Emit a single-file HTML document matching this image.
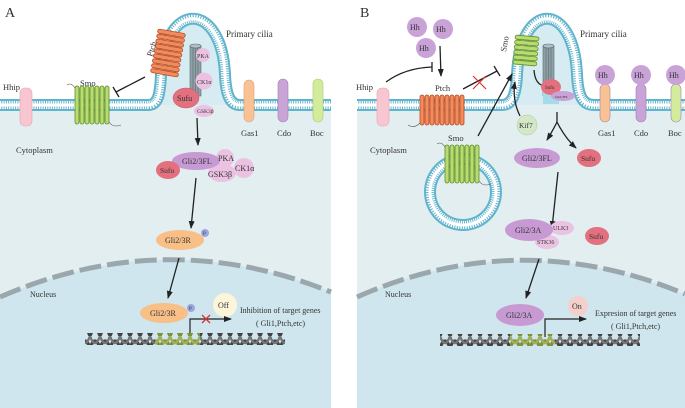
<!DOCTYPE html>
<html><head><meta charset="utf-8"><style>
html,body{margin:0;padding:0;background:#fff}
svg{display:block}
text{font-family:"Liberation Serif",serif;fill:#333}
.m1{fill:none;stroke:#62b4cc;stroke-width:12}
.m2{fill:none;stroke:#fff;stroke-width:8;stroke-dasharray:1.3 1}
.m3{fill:none;stroke:#fff;stroke-width:3}
.ar{stroke:#222;stroke-width:1.3;fill:none;marker-end:url(#ah)}
.in{stroke:#222;stroke-width:1.3;fill:none}
</style></head><body>
<svg width="685" height="408" viewBox="0 0 685 408" xmlns="http://www.w3.org/2000/svg">
<defs>
<marker id="ah" markerWidth="8" markerHeight="8" refX="7" refY="4" orient="auto" markerUnits="userSpaceOnUse"><path d="M0,1 L8,4 L0,7 z" fill="#222"/></marker>
<pattern id="dna" width="10" height="12" patternUnits="userSpaceOnUse"><path d="M0,12 Q5,-2 10,12" fill="none" stroke="#444" stroke-width="3.2"/><path d="M0,0 Q5,14 10,0" fill="none" stroke="#777" stroke-width="2.4"/></pattern>
<pattern id="dnag" width="10" height="12" patternUnits="userSpaceOnUse"><path d="M0,12 Q5,-2 10,12" fill="none" stroke="#7f9238" stroke-width="3.2"/><path d="M0,0 Q5,14 10,0" fill="none" stroke="#a2b25a" stroke-width="2.4"/></pattern>
<g id="smoV"><g fill="#b9db70" stroke="#5f8f2a" stroke-width="0.8">
<rect x="0" y="0" width="4" height="38" rx="2"/><rect x="5" y="0" width="4" height="38" rx="2"/><rect x="10" y="0" width="4" height="38" rx="2"/><rect x="15" y="0" width="4" height="38" rx="2"/><rect x="20" y="0" width="4" height="38" rx="2"/><rect x="25" y="0" width="4" height="38" rx="2"/><rect x="30" y="0" width="4" height="38" rx="2"/></g>
<path d="M0,2 q-4,-6 -8,-3" stroke="#555" stroke-width="0.6" fill="none"/><path d="M34,36 q4,6 12,3" stroke="#555" stroke-width="0.6" fill="none"/></g>
<g id="ptchV"><g fill="#f28c5c" stroke="#b94b25" stroke-width="0.8">
<rect x="0" y="0" width="4" height="30" rx="2"/><rect x="5" y="0" width="4" height="30" rx="2"/><rect x="10" y="0" width="4" height="30" rx="2"/><rect x="15" y="0" width="4" height="30" rx="2"/><rect x="20" y="0" width="4" height="30" rx="2"/><rect x="25" y="0" width="4" height="30" rx="2"/><rect x="30" y="0" width="4" height="30" rx="2"/><rect x="35" y="0" width="4" height="30" rx="2"/><rect x="40" y="0" width="4" height="30" rx="2"/></g>
<path d="M0,28 q-6,6 -12,2" stroke="#555" stroke-width="0.6" fill="none"/></g>
<g id="axo"><rect x="0" y="0" width="11" height="50" fill="#8fa0a6" stroke="#5a6a70" stroke-width="0.6"/><path d="M3,0v50M5.5,0v50M8,0v50" stroke="#5a6a70" stroke-width="0.6"/><ellipse cx="5.5" cy="0" rx="5.5" ry="2" fill="#b0c0c5" stroke="#5a6a70" stroke-width="0.6"/></g>
</defs>

<!-- Panel A background -->
<rect x="0" y="105" width="331" height="303" fill="#e3eef1"/>
<path d="M0,297 Q165,225 331,292 L331,408 L0,408 Z" fill="#cfe6ee"/>
<path d="M0,297 Q165,225 331,292" fill="none" stroke="#9aa8ad" stroke-width="5" stroke-dasharray="22 6"/>
<path d="M156,105 C160,100 160,90 161,75 C164,0 222,0 225,75 C226,90 226,100 232,105 Z" fill="#d6ecf2"/>
<path class="m1" d="M0,105 L148,105 C158,105 160,95 161,75 C164,0 222,0 225,75 C226,95 230,105 240,105 L331,105"/>
<path class="m2" d="M0,105 L148,105 C158,105 160,95 161,75 C164,0 222,0 225,75 C226,95 230,105 240,105 L331,105"/>
<path class="m3" d="M0,105 L148,105 C158,105 160,95 161,75 C164,0 222,0 225,75 C226,95 230,105 240,105 L331,105"/>

<!-- Panel B background -->
<rect x="357" y="105" width="328" height="303" fill="#e3eef1"/>
<path d="M357,297 Q520,225 685,294 L685,408 L357,408 Z" fill="#cfe6ee"/>
<path d="M357,297 Q520,225 685,294" fill="none" stroke="#9aa8ad" stroke-width="5" stroke-dasharray="22 6"/>
<path d="M510,105 C515,100 516,90 517,75 C520,0 574,0 577,75 C578,90 580,100 586,105 Z" fill="#d6ecf2"/>
<path class="m1" d="M357,105 L502,105 C512,105 516,95 517,75 C520,0 574,0 577,75 C578,95 582,105 594,105 L685,105"/>
<path class="m2" d="M357,105 L502,105 C512,105 516,95 517,75 C520,0 574,0 577,75 C578,95 582,105 594,105 L685,105"/>
<path class="m3" d="M357,105 L502,105 C512,105 516,95 517,75 C520,0 574,0 577,75 C578,95 582,105 594,105 L685,105"/>
<!-- vesicle -->
<circle cx="463" cy="192" r="33" fill="none" stroke="#62b4cc" stroke-width="12"/>
<circle cx="463" cy="192" r="33" fill="none" stroke="#fff" stroke-width="8" stroke-dasharray="1.3 1"/>
<circle cx="463" cy="192" r="33" fill="none" stroke="#fff" stroke-width="3"/>
<circle cx="463" cy="192" r="26" fill="#e3eef1"/>

<!-- ===== A ===== -->
<text x="5" y="17" font-size="14">A</text>
<text x="226" y="37" font-size="9">Primary cilia</text>
<rect x="20" y="88" width="12" height="38" rx="5" fill="#f8c6d0" stroke="#eaa0b0" stroke-width="0.6"/>
<text x="3" y="90" font-size="8.5">Hhip</text>
<use href="#smoV" x="75" y="86"/>
<text x="80" y="86" font-size="8.5">Smo</text>
<g transform="translate(168,53) rotate(10)"><g fill="#f28c5c" stroke="#b94b25" stroke-width="0.8">
<rect x="-14" y="-22" width="28" height="4" rx="2"/><rect x="-14" y="-17" width="28" height="4" rx="2"/><rect x="-14" y="-12" width="28" height="4" rx="2"/><rect x="-14" y="-7" width="28" height="4" rx="2"/><rect x="-14" y="-2" width="28" height="4" rx="2"/><rect x="-14" y="3" width="28" height="4" rx="2"/><rect x="-14" y="8" width="28" height="4" rx="2"/><rect x="-14" y="13" width="28" height="4" rx="2"/><rect x="-14" y="18" width="28" height="4" rx="2"/></g></g>
<text x="0" y="0" font-size="8.5" transform="translate(152,57) rotate(-72)">Ptch</text>
<path class="in" d="M145,77 L116,92 M113,87 L119,97"/>
<use href="#axo" x="190" y="46"/>
<circle cx="203" cy="55" r="7" fill="#ecc2e2"/><text x="197" y="58" font-size="6">PKA</text>
<circle cx="204" cy="81" r="8.5" fill="#ecc2e2"/><text x="197" y="84" font-size="6">CK1α</text>
<ellipse cx="186" cy="98" rx="13" ry="10" fill="#e2707f" stroke="#c9556a" stroke-width="0.5"/><text x="177" y="101" font-size="8" fill="#fff">Sufu</text>
<ellipse cx="204" cy="111" rx="10" ry="6" fill="#ecc2e2"/><text x="197" y="113" font-size="5.5">GSK3β</text>
<rect x="244" y="80" width="10" height="42" rx="5" fill="#f9c294" stroke="#e0a070" stroke-width="0.6"/>
<rect x="278" y="79" width="10" height="43" rx="5" fill="#c9a4d6" stroke="#a080b0" stroke-width="0.6"/>
<rect x="313" y="79" width="10" height="43" rx="5" fill="#d3ec9c" stroke="#aac870" stroke-width="0.6"/>
<text x="241" y="136" font-size="8.5">Gas1</text><text x="277" y="136" font-size="8.5">Cdo</text><text x="310" y="136" font-size="8.5">Boc</text>
<text x="16" y="153" font-size="8.5">Cytoplasm</text>
<path class="ar" d="M197,118 L198,145"/>
<circle cx="225" cy="158" r="9" fill="#ecc2e2"/><circle cx="244" cy="168" r="10" fill="#ecc2e2"/><ellipse cx="222" cy="173" rx="14" ry="9" fill="#ecc2e2"/>
<ellipse cx="196" cy="161" rx="24" ry="9" fill="#c89ad4"/><text x="182" y="164" font-size="8">Gli2/3FL</text>
<ellipse cx="168" cy="170" rx="12" ry="9" fill="#e2707f"/><text x="160" y="173" font-size="7.5" fill="#fff">Sufu</text>
<text x="218" y="161" font-size="8">PKA</text><text x="235" y="171" font-size="8">CK1α</text><text x="208" y="177" font-size="8">GSK3β</text>
<path class="ar" d="M196,178 L191,228"/>
<ellipse cx="180" cy="240" rx="24" ry="10" fill="#f8bf86"/><text x="165" y="243" font-size="8">Gli2/3R</text>
<circle cx="205" cy="233" r="4" fill="#9aa6e0"/><text x="203" y="235" font-size="5" fill="#fff">P</text>
<path class="ar" d="M179,258 L168,298"/>
<text x="30" y="297" font-size="8">Nucleus</text>
<ellipse cx="164" cy="313" rx="24" ry="10" fill="#f8bf86"/><text x="150" y="316" font-size="8">Gli2/3R</text>
<circle cx="191" cy="308" r="4" fill="#9aa6e0"/><text x="189" y="310" font-size="5" fill="#fff">P</text>
<circle cx="225" cy="305" r="12" fill="#fdf5da"/><text x="218" y="308" font-size="8">Off</text>
<path d="M190,334 L190,319 L231,319" fill="none" stroke="#222" stroke-width="1.2" marker-end="url(#ah)"/>
<path d="M202,315 L210,323 M210,315 L202,323" stroke="#e03030" stroke-width="1.3"/>
<text x="240" y="313" font-size="8">Inhibition of target genes</text>
<text x="256" y="326" font-size="8">( Gli1,Ptch,etc)</text>
<rect x="85" y="333" width="200" height="12" fill="url(#dna)"/>
<rect x="155" y="333" width="45" height="12" fill="url(#dnag)"/>

<!-- ===== B ===== -->
<text x="360" y="17" font-size="14">B</text>
<text x="580" y="37" font-size="9">Primary cilia</text>
<circle cx="417" cy="27" r="10" fill="#c9a2d8"/><text x="410" y="30" font-size="8">Hh</text>
<circle cx="443" cy="29" r="10" fill="#c9a2d8"/><text x="436" y="32" font-size="8">Hh</text>
<circle cx="426" cy="48" r="10" fill="#c9a2d8"/><text x="419" y="51" font-size="8">Hh</text>
<path class="ar" d="M440,46 L441,76"/>
<rect x="377" y="88" width="12" height="38" rx="5" fill="#f8c6d0" stroke="#eaa0b0" stroke-width="0.6"/>
<text x="356" y="90" font-size="8.5">Hhip</text>
<path class="in" d="M386,82 Q405,68 432,67 M432,62 L432,72"/>
<use href="#ptchV" x="420" y="95"/>
<text x="435" y="91" font-size="8.5">Ptch</text>
<path class="in" d="M463,89 L497,71 M494,66 L500,76"/>
<path d="M473,76 L486,89 M473,89 L486,76" stroke="#e03030" stroke-width="1.2"/>
<g transform="translate(526,50) rotate(5)"><g fill="#b9db70" stroke="#5f8f2a" stroke-width="0.8">
<rect x="-12" y="-14" width="24" height="4" rx="2"/><rect x="-12" y="-9" width="24" height="4" rx="2"/><rect x="-12" y="-4" width="24" height="4" rx="2"/><rect x="-12" y="1" width="24" height="4" rx="2"/><rect x="-12" y="6" width="24" height="4" rx="2"/><rect x="-12" y="11" width="24" height="4" rx="2"/></g></g>
<text x="0" y="0" font-size="8.5" transform="translate(506,52) rotate(-80)">Smo</text>
<path class="ar" d="M478,136 L512,74"/>
<circle cx="527" cy="125" r="10" fill="#d3e8c6" stroke="#aacb98" stroke-width="0.5"/><text x="519" y="128" font-size="7.5">Kif7</text>
<path class="ar" d="M520,116 Q512,100 515,82"/>
<use href="#axo" x="543" y="46"/>
<path class="in" d="M534,70 Q535,85 545,86 M545,81 L545,91"/>
<rect x="543" y="92" width="16" height="12" fill="#a6dbec"/>
<ellipse cx="551" cy="87" rx="10" ry="8" fill="#e2707f"/><text x="545" y="89" font-size="5" fill="#fff">Sufu</text>
<ellipse cx="563" cy="96" rx="12" ry="5" fill="#c9a2d8"/><text x="555" y="98" font-size="3.5">Gli2/3FL</text>
<g fill="#c9a2d8" stroke="#a080b0" stroke-width="0.6">
<rect x="600" y="84" width="10" height="38" rx="5" fill="#f9c294"/>
<rect x="636" y="84" width="10" height="38" rx="5"/>
<rect x="671" y="84" width="10" height="38" rx="5" fill="#d3ec9c"/></g>
<circle cx="605" cy="75" r="10" fill="#c9a2d8"/><text x="598" y="78" font-size="8">Hh</text>
<circle cx="641" cy="75" r="10" fill="#c9a2d8"/><text x="634" y="78" font-size="8">Hh</text>
<circle cx="676" cy="75" r="10" fill="#c9a2d8"/><text x="669" y="78" font-size="8">Hh</text>
<text x="598" y="136" font-size="8.5">Gas1</text><text x="634" y="136" font-size="8.5">Cdo</text><text x="668" y="136" font-size="8.5">Boc</text>
<text x="370" y="153" font-size="8.5">Cytoplasm</text>
<text x="448" y="141" font-size="8.5">Smo</text>
<use href="#smoV" x="445" y="145"/>
<path class="in" d="M557,112 L557,122"/>
<path class="ar" d="M557,122 Q552,132 547,140"/>
<path class="ar" d="M557,122 Q565,138 576,148"/>
<ellipse cx="537" cy="158" rx="23" ry="10" fill="#c89ad4"/><text x="522" y="161" font-size="8">Gli2/3FL</text>
<ellipse cx="589" cy="158" rx="12" ry="9" fill="#e2707f"/><text x="581" y="161" font-size="7.5" fill="#fff">Sufu</text>
<path class="ar" d="M558,172 L552,228"/>
<ellipse cx="562" cy="228" rx="12" ry="7" fill="#ecc2e2"/><text x="553" y="230" font-size="6">ULK3</text>
<ellipse cx="547" cy="242" rx="12" ry="7" fill="#ecc2e2"/><text x="537" y="244" font-size="6">STK36</text>
<ellipse cx="529" cy="230" rx="24" ry="11" fill="#c89ad4"/><text x="515" y="233" font-size="8">Gli2/3A</text>
<ellipse cx="597" cy="236" rx="12" ry="9" fill="#e2707f"/><text x="589" y="239" font-size="7.5" fill="#fff">Sufu</text>
<path class="ar" d="M539,259 L526,298"/>
<text x="385" y="297" font-size="8">Nucleus</text>
<ellipse cx="520" cy="315" rx="24" ry="11" fill="#c89ad4"/><text x="506" y="318" font-size="8">Gli2/3A</text>
<circle cx="578" cy="306" r="10" fill="#f5cfcb"/><text x="572" y="309" font-size="8">On</text>
<path d="M545,337 L545,319 L586,319" fill="none" stroke="#222" stroke-width="1.2" marker-end="url(#ah)"/>
<text x="595" y="316" font-size="8">Expresion of target genes</text>
<text x="611" y="329" font-size="8">( Gli1,Ptch,etc)</text>
<rect x="440" y="334" width="200" height="12" fill="url(#dna)"/>
<rect x="510" y="334" width="45" height="12" fill="url(#dnag)"/>
</svg>
</body></html>
